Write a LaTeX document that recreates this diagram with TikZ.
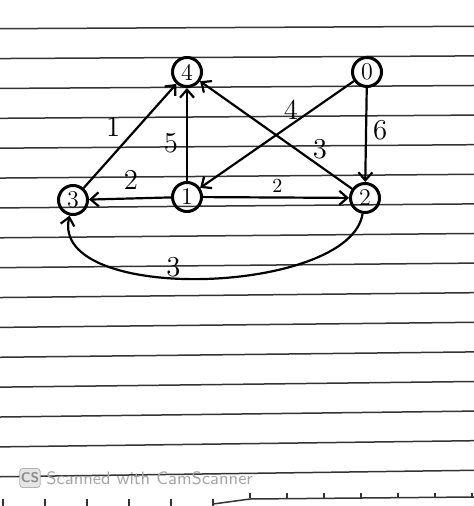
\documentclass[tikz,border=0pt]{standalone}
\usepackage{tikz}
\usetikzlibrary{arrows.meta}

\begin{document}
\begin{tikzpicture}[x=0.5pt, y=-0.5pt,
    vertex/.style={circle, draw, line width=1.5pt, minimum size=14.5pt, inner sep=0pt, font=\large},
    edge/.style={line width=1.1pt, -{Straight Barb[length=4pt, width=7pt]}},
    weight/.style={font=\Large, inner sep=2pt},
    rule/.style={line width=0.75pt, black!80}]
    \useasboundingbox (0,0) rectangle (474,506);

    % draw ruled lines
    \foreach \k in {0,...,15}
      \draw[rule] (0,{28.7+29.87*\k}) -- (474,{26.3+29.6*\k});
    \draw[rule] (213,504) -- (250,499) -- (474,497);

    % draw ruler ticks
    \foreach \x in {3,45,87,129,171,213}
      \draw[rule] (\x,499) -- (\x,506);
    \foreach \x in {250,287,324,361,398,435,472}
      \draw[rule] (\x,493) -- (\x,498);

    % draw nodes
    \node[vertex] (n4) at (187,72) {4};
    \node[vertex] (n0) at (367,72) {0};
    \node[vertex] (n3) at (73,200) {3};
    \node[vertex] (n1) at (187,197) {1};
    \node[vertex] (n2) at (365,198) {2};

    % draw edges
    \draw[edge] (n3) -- node[weight, pos=0.45, above left] {1} (n4);
    \draw[edge] (n1) -- node[weight, pos=0.41, left=2pt] {5} (n4);
    \draw[edge] (n2) -- node[weight, pos=0.21, above=1pt] {3} (n4);
    \draw[edge] (n0) -- node[weight, pos=0.41, above] {4} (n1);
    \draw[edge] (n0) -- node[weight, pos=0.45, right=1pt] {6} (n2);
    \draw[edge] (n1) -- node[weight, pos=0.49, above=2pt] {2} (n3);
    \draw[edge] (n1) -- node[weight, font=\normalsize, pos=0.51, above] {2} (n2);
    \draw[edge] (n2) .. controls (350,295) and (50,305) .. node[weight, pos=0.57, above, inner sep=0pt] {3} (n3);

    % draw watermark
    \node[draw=black!30, fill=black!10, rounded corners=1.5pt, text=black!45,
          font=\sffamily\scriptsize\bfseries, minimum size=9.5pt, inner sep=0.5pt] (cs) at (30,478) {CS};
    \node[anchor=west, text=black!35, font=\sffamily\fontsize{9}{11}\selectfont, inner sep=0pt]
          (scan) at (46,478) {Scanned with CamScanner};
\end{tikzpicture}
\end{document}
